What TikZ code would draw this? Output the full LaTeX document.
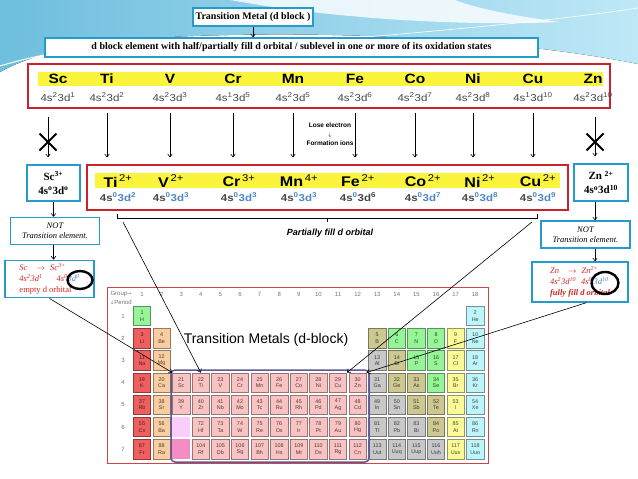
\documentclass[tikz,border=0pt]{standalone}
\usepackage{fontspec}
\setmainfont{Liberation Serif}
\setsansfont{Liberation Sans}
\newfontfamily\widesans[FakeStretch=1.15]{Liberation Sans}
\newfontfamily\symfont{DejaVu Sans}
\usetikzlibrary{arrows.meta,positioning,calc,shapes.geometric,shapes.misc}
\definecolor{boxcyan}{RGB}{35,155,205}
\definecolor{boxred}{RGB}{200,35,45}
\definecolor{bandyel}{RGB}{250,245,60}
\definecolor{cfgblue}{RGB}{75,135,200}
\definecolor{cfggrey}{RGB}{70,70,70}
\definecolor{txtred}{RGB}{215,35,35}
\definecolor{dframe}{RGB}{90,90,155}
\definecolor{ptred}{RGB}{205,70,70}
\definecolor{skyA}{RGB}{110,190,222}
\definecolor{skyB}{RGB}{190,232,246}
% periodic table fills
\definecolor{fillA}{RGB}{240,95,95}
\definecolor{fillB}{RGB}{250,205,160}
\definecolor{fillT}{RGB}{250,195,195}
\definecolor{fillM}{RGB}{205,200,145}
\definecolor{fillN}{RGB}{150,245,150}
\definecolor{fillH}{RGB}{250,250,150}
\definecolor{fillG}{RGB}{190,245,250}
\definecolor{fillP}{RGB}{200,200,200}
\definecolor{fillL}{RGB}{250,205,250}
\definecolor{fillR}{RGB}{245,140,195}

% one run of table cells: row, first number, first column, list sym/kind
\newcommand{\elemrow}[4]{%
  \foreach \sy/\ct [count=\i from 0] in {#4} {%
    \pgfmathtruncatemacro\z{#2+\i}%
    \node[cell, fill=fill\ct, draw=fill\ct!60!black, text=fill\ct!30!black]
      (e\z) at ({142+(#3-1+\i)*19.6},{316+(#1-1)*22.2}) {\z\\\sy};
  }}

\begin{document}
\begin{tikzpicture}[x=1pt,y=-1pt,
  tbox/.style={draw=boxcyan, line width=1.6pt, fill=white, font=\fontsize{10}{11}\selectfont\bfseries, inner sep=2pt},
  rbox/.style={draw=boxred, line width=1.4pt, fill=white},
  band/.style={fill=bandyel, inner sep=0pt},
  elsym/.style={font=\widesans\fontsize{13.5}{14}\selectfont\bfseries, inner sep=0pt},
  cfg/.style={font=\widesans\fontsize{10}{11}\selectfont, text=cfggrey, inner sep=0pt},
  ionsym/.style={font=\widesans\fontsize{14}{15}\selectfont\bfseries, inner sep=0pt},
  ionbox/.style={draw=boxcyan, line width=1.6pt, fill=white, minimum width=53pt, minimum height=36pt,
                 align=center, font=\fontsize{11}{14}\selectfont\bfseries, inner sep=1pt},
  notbox/.style={draw=boxcyan, line width=1.6pt, fill=white, minimum width=89pt, minimum height=27pt,
                 align=center, font=\fontsize{8.5}{10}\selectfont\itshape, inner sep=1pt},
  note/.style={draw=boxcyan, line width=1.6pt, fill=white, text=txtred, align=left,
               font=\fontsize{8.5}{11}\selectfont, inner xsep=5pt},
  arr/.style={-{To[length=3.5pt,width=5pt]}, line width=0.6pt},
  nox/.style={cross out, draw, line width=2pt, minimum size=15pt, inner sep=0pt},
  ring/.style={ellipse, draw, line width=2.4pt, inner sep=0pt},
  cell/.style={minimum width=17.5pt, minimum height=19.5pt, inner sep=0pt, line width=0.6pt,
               align=center, font=\sffamily\fontsize{5.4}{6.4}\selectfont},
  grp/.style={font=\sffamily\fontsize{6}{6}\selectfont, text=black!55, inner sep=0pt}
]
\useasboundingbox (0,0) rectangle (638,479);

% ---- background swoosh ----
\fill[left color=skyA, right color=skyB] (0,0) -- (638,0) -- (638,64)
  .. controls (520,40) and (330,28) .. (150,38) .. controls (80,42) and (30,55) .. (0,72) -- cycle;
\fill[white, opacity=0.8] (230,0) .. controls (340,20) and (470,26) .. (560,22)
  .. controls (500,14) and (470,6) .. (455,0) -- cycle;
\draw[white, line width=1pt] (0,66) .. controls (120,30) and (300,30) .. (520,48);
\draw[white, line width=0.6pt] (330,40) .. controls (450,30) and (560,20) .. (638,8);

% ---- headings ----
\node[tbox, minimum width=120pt, minimum height=18pt] (title) at (253,17) {Transition Metal (d block )};
\node[tbox, minimum width=493pt, minimum height=19pt] (dblock) at (291.5,47.5)
  {d block element with half/partially fill d orbital / sublevel in one or more of its oxidation states};
\draw[arr] (title.south) -- (title.south |- dblock.north);

% ---- neutral atoms (top red box) ----
\node[rbox, minimum width=582pt, minimum height=44pt] (topbox) at (319,86) {};
\node[band, minimum width=565pt, minimum height=14pt] (topband) at (320.5,79) {};
\foreach \nm/\sym/\xx/\s/\d in {sc/Sc/58/2/1, ti/Ti/107/2/2, v/V/170/2/3, cr/Cr/233/1/5, mn/Mn/293/2/5,
    fe/Fe/355/2/6, co/Co/415/2/7, ni/Ni/473/2/8, cu/Cu/533/1/10, zn/Zn/593/2/10} {
  \node[elsym] (\nm) at (\xx,79) {\sym};
  \node[cfg] (\nm c) at (\xx,97) {4s\textsuperscript{\s}3d\textsuperscript{\d}};
}

% ---- ions (middle red box) ----
\node[rbox, minimum width=481pt, minimum height=45pt] (ionrow) at (327.5,187.5) {};
\node[band, minimum width=465pt, minimum height=15pt] (ionband) at (327.5,180.5) {};
\foreach \nm/\sym/\ch/\xx/\d/\cc in {ti/Ti/2/118/2/cfgblue, v/V/2/171/3/cfgblue, cr/Cr/3/239/3/cfgblue,
    mn/Mn/4/299/3/cfgblue, fe/Fe/2/358/6/cfggrey, co/Co/2/423/7/cfgblue, ni/Ni/2/480/8/cfgblue,
    cu/Cu/2/538/9/cfgblue} {
  \node[ionsym] (\nm ion) at (\xx,181) {\sym\textsuperscript{\,\mdseries\ch+}};
  \node[cfg, font=\widesans\fontsize{10}{11}\selectfont\bfseries] (\nm ionc) at (\xx,197)
    {4s{\color{cfgblue}\textsuperscript{0}}{\color{\cc}3d\textsuperscript{\d}}};
}
\foreach \nm in {ti,v,cr,mn,fe,co,ni,cu}
  \draw[arr, shorten <=4pt, shorten >=7pt] (topbox.south -| \nm) -- (ionrow.north -| \nm);
\node[font=\sffamily\bfseries\fontsize{6.5}{9}\selectfont, align=center] (lose) at (330,134)
  {Lose electron\\{\tiny$\downarrow$}\\Formation ions};

% ---- brace: partially filled ----
\coordinate (brL) at (117,214);
\coordinate (brR) at (537,214);
\draw[line width=0.8pt] (brL) -- ++(0,4) coordinate (brL2) -- (brL2 -| brR) -- (brR);
\draw[line width=0.8pt] ($(brL2)!0.5!(brL2 -| brR)$) -- ++(0,4);
\node[font=\sffamily\bfseries\itshape\fontsize{9}{9}\selectfont] (partial) at (330,233) {Partially fill d orbital};

% ---- Sc side ----
\node[ionbox] (scbox) at (53.5,183) {Sc\textsuperscript{3+}\\4s\textsuperscript{o}3d\textsuperscript{o}};
\node[nox] (scx) at (48,142) {};
\draw[arr, shorten <=8pt, shorten >=7pt] (topbox.south -| scx) -- (scbox.north -| scx);
\node[notbox] (scnot) at (55,231) {NOT\\Transition element.};
\draw[arr] (scbox.south) -- (scbox.south |- scnot.north);
\node[note, minimum width=89pt, minimum height=36pt] (scnote) at (49.5,279)
  {\itshape Sc\hspace{9pt}$\rightarrow$\hspace{5pt}Sc\textsuperscript{3+}\\
   \itshape 4s\textsuperscript{2}3d\textsuperscript{1}\hspace{14pt}4s\textsuperscript{0}{\color{cfgblue}3d\textsuperscript{0}}\\
   empty d orbital};
\draw[arr] (scnot.south -| scbox) -- (scnote.north -| scbox);
\node[ring, minimum width=25pt, minimum height=18pt] (scring) at (80,280) {};

% ---- Zn side ----
\node[ionbox, minimum width=54pt, minimum height=37pt] (znbox) at (601,182.5) {Zn \textsuperscript{2+}\\4s\textsuperscript{o}3d\textsuperscript{10}};
\node[nox] (znx) at (595,142) {};
\draw[arr, shorten <=8pt, shorten >=7pt] (topbox.south -| znx) -- (znbox.north -| znx);
\node[notbox] (znnot) at (585.5,234.5) {NOT\\Transition element.};
\draw[arr] (znbox.south -| znx) -- (znnot.north -| znx);
\node[note, minimum width=96pt, minimum height=40pt] (znnote) at (580,282)
  {\itshape Zn\hspace{9pt}$\rightarrow$\hspace{5pt}Zn\textsuperscript{2+}\\
   \itshape 4s\textsuperscript{2}3d\textsuperscript{10}\hspace{5pt}4s\textsuperscript{0}\,{\color{cfgblue}3d\textsuperscript{10}}\\
   \bfseries\itshape fully fill d orbital};
\draw[arr] (znnot.south -| znx) -- (znnote.north -| znx);
\node[ring, minimum width=27pt, minimum height=22pt] (znring) at (605,283) {};

% ---- periodic table ----
\node[draw=ptred, line width=0.8pt, minimum width=381pt, minimum height=176pt] (ptable) at (297.5,375) {};
\node[grp] (grouplbl) at (121,294) {Group{\symfont\fontsize{5}{5}\selectfont→}};
\node[grp] (periodlbl) at (121,302) {{\symfont\fontsize{5}{5}\selectfont↓}Period};
\foreach \g in {1,...,18}
  \node[grp] (grp\g) at ({142+(\g-1)*19.6},294) {\g};
\foreach \p in {1,...,7}
  \node[grp] (per\p) at (123,{316+(\p-1)*22.2}) {\p};
\node[font=\sffamily\fontsize{14}{14}\selectfont] (dtitle) at (266,340) {Transition Metals (d-block)};

\node[cell, fill=fillN, draw=fillN!60!black, text=fillN!30!black] (e1) at (142,316) {1\\H};
\node[cell, fill=fillG, draw=fillG!60!black, text=fillG!30!black] (e2) at (475.2,316) {2\\He};
\elemrow{2}{3}{1}{Li/A,Be/B}
\elemrow{2}{5}{13}{B/M,C/N,N/N,O/N,F/H,Ne/G}
\elemrow{3}{11}{1}{Na/A,Mg/B}
\elemrow{3}{13}{13}{Al/P,Si/M,P/N,S/N,Cl/H,Ar/G}
\elemrow{4}{19}{1}{K/A,Ca/B,Sc/T,Ti/T,V/T,Cr/T,Mn/T,Fe/T,Co/T,Ni/T,Cu/T,Zn/T,Ga/P,Ge/M,As/M,Se/N,Br/H,Kr/G}
\elemrow{5}{37}{1}{Rb/A,Sr/B,Y/T,Zr/T,Nb/T,Mo/T,Tc/T,Ru/T,Rh/T,Pd/T,Ag/T,Cd/T,In/P,Sn/P,Sb/M,Te/M,I/H,Xe/G}
\elemrow{6}{55}{1}{Cs/A,Ba/B}
\elemrow{6}{72}{4}{Hf/T,Ta/T,W/T,Re/T,Os/T,Ir/T,Pt/T,Au/T,Hg/T,Tl/P,Pb/P,Bi/P,Po/M,At/H,Rn/G}
\elemrow{7}{87}{1}{Fr/A,Ra/B}
\elemrow{7}{104}{4}{Rf/T,Db/T,Sg/T,Bh/T,Hs/T,Mt/T,Ds/T,Rg/T,Cn/T,Uut/P,Uuq/P,Uup/P,Uuh/P,Uus/H,Uuo/G}
\node[cell, fill=fillL] (lan) at (181.2,427) {};
\node[cell, fill=fillR] (act) at (181.2,449.2) {};
\node[draw=dframe, line width=1.5pt, rounded corners=4pt, minimum width=198pt, minimum height=92pt] (dframe) at (270,416) {};

% ---- links into the table ----
\coordinate (tilink) at (123,222);
\coordinate (culink) at (532,222);
\draw[arr] (scnote.south) -- (e21.north west);
\draw[arr] (tilink) -- (e22.north);
\draw[arr] (culink) -- (e29.north east);
\draw[arr] ($(znnote.south)+(6,0)$) -- (e30.north east);

\end{tikzpicture}
\end{document}
